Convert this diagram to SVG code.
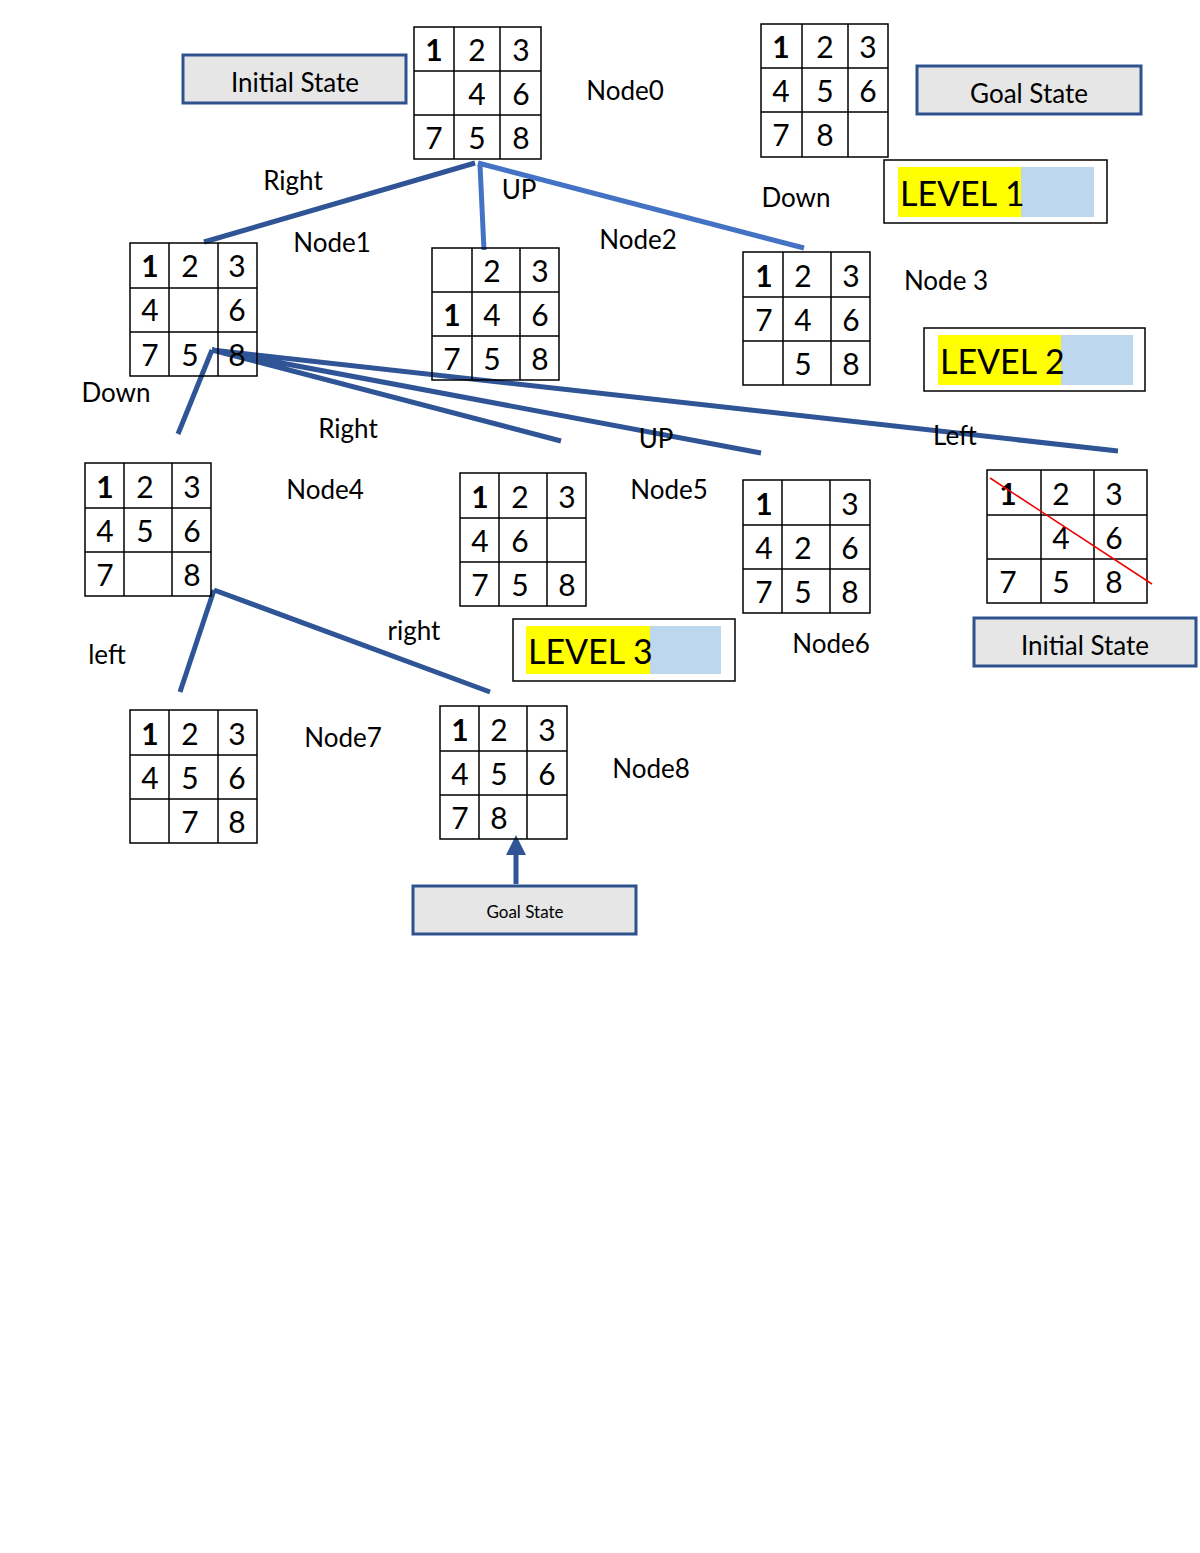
<svg xmlns="http://www.w3.org/2000/svg" width="1200" height="1553" viewBox="0 0 1200 1553">
<style>
text{font-family:Lato,"Open Sans","Liberation Sans",sans-serif;fill:#000}
.g{fill:none;stroke:#000;stroke-width:1.5}
.d{font-size:30px;text-anchor:middle}
.b{font-weight:bold}
.l{font-size:26px;text-anchor:middle}
.box{fill:#e6e6e6;stroke:#2f528f;stroke-width:3}
.lv{fill:#fff;stroke:#000;stroke-width:1.5}
.c1{stroke:#2f5597;stroke-width:5;fill:none}
.c2{stroke:#4472c4;stroke-width:5;fill:none}
</style>
<defs><marker id="ah" markerWidth="4" markerHeight="4" refX="2" refY="2" orient="auto"><path d="M0,0L4,2L0,4z" fill="#2f5597"/></marker></defs>
<rect width="1200" height="1553" fill="#fff"/>
<g id="connectors">
<path class="c1" d="M475,163L204,242"/>
<path class="c2" d="M480,165L484,250"/>
<path class="c2" d="M478,163L804,248"/>
<path class="c1" d="M212,350L178,434M212,350L561,441M212,350L761,453M212,350L1118,451"/>
<path class="c1" d="M214,590L180,692M214,590L490,692"/>
<path class="c1" d="M516,884L516,845" marker-end="url(#ah)"/>
</g>
<g id="node0"><path class="g" d="M414,27h127v132h-127zM454,27v132M500,27v132M414,71h127M414,115h127"/>
<text class="d" y="61"><tspan class="b" x="434">1</tspan><tspan x="477">2</tspan><tspan x="521">3</tspan></text>
<text class="d" y="105"><tspan x="477">4</tspan><tspan x="521">6</tspan></text>
<text class="d" y="149"><tspan x="434">7</tspan><tspan x="477">5</tspan><tspan x="521">8</tspan></text></g>
<g id="goal"><path class="g" d="M761,24h127v133h-127zM802,24v133M848,24v133M761,68h127M761,112h127"/>
<text class="d" y="58"><tspan class="b" x="781">1</tspan><tspan x="825">2</tspan><tspan x="868">3</tspan></text>
<text class="d" y="102"><tspan x="781">4</tspan><tspan x="825">5</tspan><tspan x="868">6</tspan></text>
<text class="d" y="146"><tspan x="781">7</tspan><tspan x="825">8</tspan></text></g>
<g id="node1"><path class="g" d="M130,243h127v133h-127zM169,243v133M218,243v133M130,288h127M130,332h127"/>
<text class="d" y="277"><tspan class="b" x="150">1</tspan><tspan x="190">2</tspan><tspan x="237">3</tspan></text>
<text class="d" y="321"><tspan x="150">4</tspan><tspan x="237">6</tspan></text>
<text class="d" y="366"><tspan x="150">7</tspan><tspan x="190">5</tspan><tspan x="237">8</tspan></text></g>
<g id="node2"><path class="g" d="M432,248h127v132h-127zM472,248v132M520,248v132M432,292h127M432,336h127"/>
<text class="d" y="282"><tspan x="492">2</tspan><tspan x="540">3</tspan></text>
<text class="d" y="326"><tspan class="b" x="452">1</tspan><tspan x="492">4</tspan><tspan x="540">6</tspan></text>
<text class="d" y="370"><tspan x="452">7</tspan><tspan x="492">5</tspan><tspan x="540">8</tspan></text></g>
<g id="node3"><path class="g" d="M743,252h127v133h-127zM783,252v133M831,252v133M743,297h127M743,341h127"/>
<text class="d" y="287"><tspan class="b" x="764">1</tspan><tspan x="803">2</tspan><tspan x="851">3</tspan></text>
<text class="d" y="331"><tspan x="764">7</tspan><tspan x="803">4</tspan><tspan x="851">6</tspan></text>
<text class="d" y="375"><tspan x="803">5</tspan><tspan x="851">8</tspan></text></g>
<g id="node4"><path class="g" d="M85,463h126v133h-126zM124,463v133M172,463v133M85,508h126M85,552h126"/>
<text class="d" y="498"><tspan class="b" x="105">1</tspan><tspan x="145">2</tspan><tspan x="192">3</tspan></text>
<text class="d" y="542"><tspan x="105">4</tspan><tspan x="145">5</tspan><tspan x="192">6</tspan></text>
<text class="d" y="586"><tspan x="105">7</tspan><tspan x="192">8</tspan></text></g>
<g id="node5"><path class="g" d="M460,473h126v133h-126zM499,473v133M547,473v133M460,518h126M460,562h126"/>
<text class="d" y="508"><tspan class="b" x="480">1</tspan><tspan x="520">2</tspan><tspan x="567">3</tspan></text>
<text class="d" y="552"><tspan x="480">4</tspan><tspan x="520">6</tspan></text>
<text class="d" y="596"><tspan x="480">7</tspan><tspan x="520">5</tspan><tspan x="567">8</tspan></text></g>
<g id="node6"><path class="g" d="M743,480h127v133h-127zM782,480v133M830,480v133M743,525h127M743,569h127"/>
<text class="d" y="515"><tspan class="b" x="764">1</tspan><tspan x="850">3</tspan></text>
<text class="d" y="559"><tspan x="764">4</tspan><tspan x="803">2</tspan><tspan x="850">6</tspan></text>
<text class="d" y="603"><tspan x="764">7</tspan><tspan x="803">5</tspan><tspan x="850">8</tspan></text></g>
<g id="crossed"><path class="g" d="M987,470h160v133h-160zM1041,470v133M1094,470v133M987,515h160M987,559h160"/>
<text class="d" y="505"><tspan class="b" x="1008">1</tspan><tspan x="1061">2</tspan><tspan x="1114">3</tspan></text>
<text class="d" y="549"><tspan x="1061">4</tspan><tspan x="1114">6</tspan></text>
<text class="d" y="593"><tspan x="1008">7</tspan><tspan x="1061">5</tspan><tspan x="1114">8</tspan></text>
<path d="M990,478L1152,584" stroke="#e00" stroke-width="1.5"/></g>
<g id="node7"><path class="g" d="M130,710h127v133h-127zM169,710v133M218,710v133M130,755h127M130,799h127"/>
<text class="d" y="745"><tspan class="b" x="150">1</tspan><tspan x="190">2</tspan><tspan x="237">3</tspan></text>
<text class="d" y="789"><tspan x="150">4</tspan><tspan x="190">5</tspan><tspan x="237">6</tspan></text>
<text class="d" y="833"><tspan x="190">7</tspan><tspan x="237">8</tspan></text></g>
<g id="node8"><path class="g" d="M440,706h127v133h-127zM479,706v133M527,706v133M440,751h127M440,795h127"/>
<text class="d" y="741"><tspan class="b" x="460">1</tspan><tspan x="499">2</tspan><tspan x="547">3</tspan></text>
<text class="d" y="785"><tspan x="460">4</tspan><tspan x="499">5</tspan><tspan x="547">6</tspan></text>
<text class="d" y="829"><tspan x="460">7</tspan><tspan x="499">8</tspan></text></g>
<g id="labels-boxes">
<rect class="box" x="183" y="55" width="223" height="48"/><text class="l" x="295" y="92">Initial State</text>
<rect class="box" x="917" y="66" width="224" height="48"/><text class="l" x="1029" y="103">Goal State</text>
<rect class="box" x="974" y="618" width="222" height="48"/><text class="l" x="1085" y="655">Initial State</text>
<rect class="box" x="413" y="886" width="223" height="48"/><text x="525" y="918" font-size="17" text-anchor="middle">Goal State</text>
<rect class="lv" x="884" y="160" width="223" height="63"/><rect x="898" y="167" width="123" height="50" fill="#ff0"/><rect x="1021" y="167" width="73" height="50" fill="#bdd7ee"/><text x="900" y="206" font-size="34">LEVEL 1</text>
<rect class="lv" x="924" y="328" width="221" height="63"/><rect x="938" y="335" width="123" height="50" fill="#ff0"/><rect x="1061" y="335" width="72" height="50" fill="#bdd7ee"/><text x="940" y="374" font-size="34">LEVEL 2</text>
<rect class="lv" x="513" y="619" width="222" height="62"/><rect x="526" y="626" width="124" height="48" fill="#ff0"/><rect x="650" y="626" width="71" height="48" fill="#bdd7ee"/><text x="528" y="664" font-size="34">LEVEL 3</text>
<text class="l" x="293" y="190">Right</text><text class="l" x="519" y="199">UP</text><text class="l" x="625" y="100">Node0</text>
<text class="l" x="796" y="207">Down</text><text class="l" x="332" y="252">Node1</text><text class="l" x="638" y="249">Node2</text>
<text class="l" x="946" y="290">Node 3</text><text class="l" x="116" y="402">Down</text><text class="l" x="348" y="438">Right</text>
<text class="l" x="656" y="448">UP</text><text class="l" x="955" y="445">Left</text><text class="l" x="325" y="499">Node4</text>
<text class="l" x="669" y="499">Node5</text><text class="l" x="831" y="653">Node6</text><text class="l" x="414" y="640">right</text>
<text class="l" x="107" y="664">left</text><text class="l" x="343" y="747">Node7</text><text class="l" x="651" y="778">Node8</text>
</g>
</svg>
